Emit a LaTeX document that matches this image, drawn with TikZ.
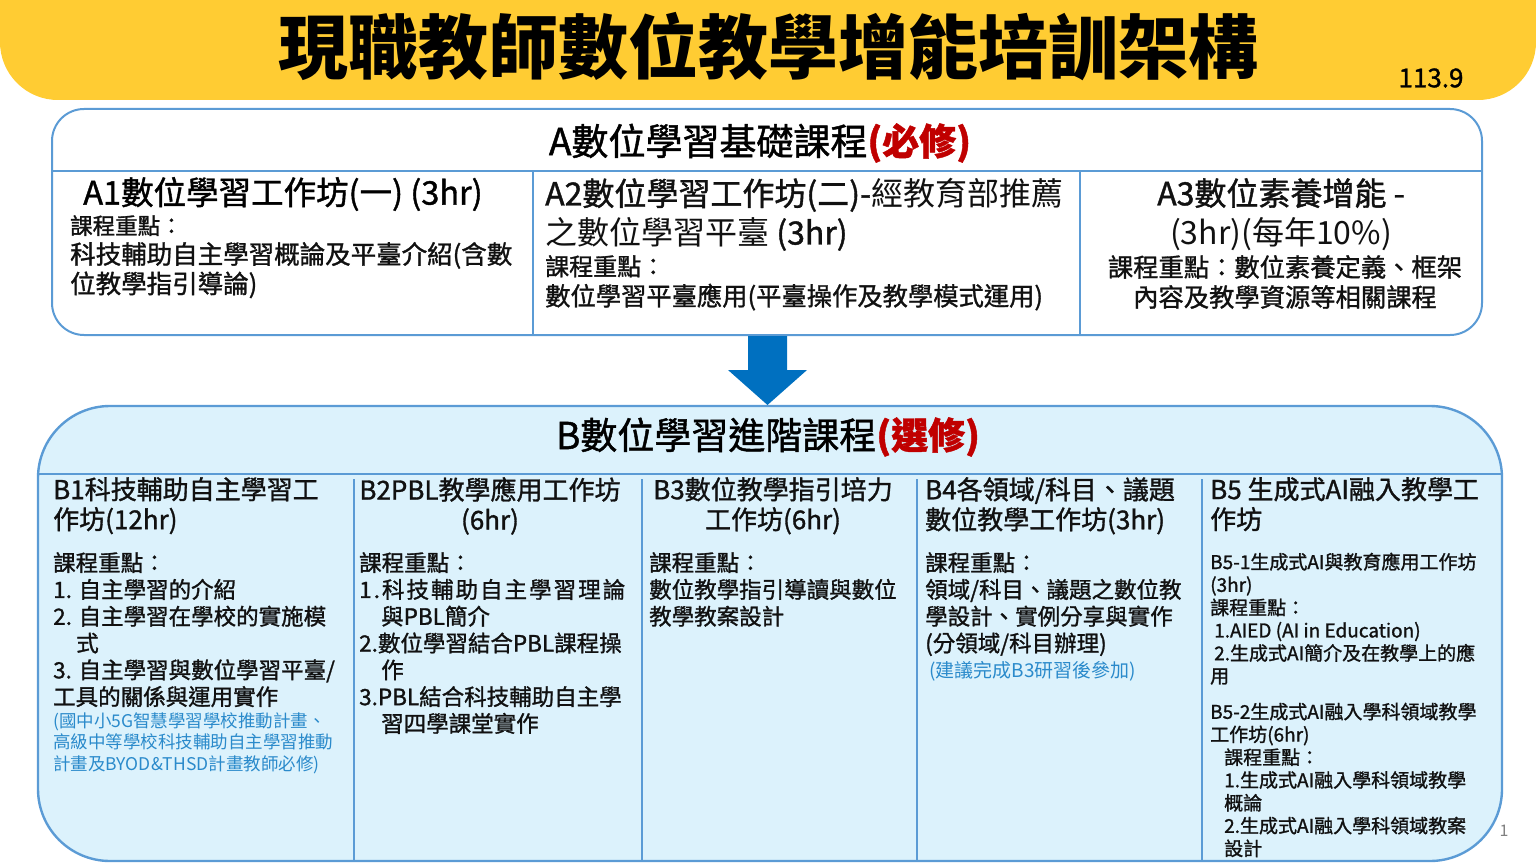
\documentclass[tikz,border=0pt]{standalone}
\usepackage{fontspec}
\setmainfont{Noto Sans CJK TC}
\newfontfamily\fm{Noto Sans CJK TC}[FakeBold=1.2]
\newfontfamily\fmls{Noto Sans CJK TC}[FakeBold=1.2, LetterSpace=9]
\newcommand\myfs[2]{\fontsize{#1}{#2}\selectfont}
\definecolor{ttl}{HTML}{FFCC33}
\definecolor{bline}{HTML}{5B9BD5}
\definecolor{bfill}{HTML}{DCF2FC}
\definecolor{req}{HTML}{C00000}
\definecolor{note}{HTML}{2A8ACB}
\definecolor{arw}{HTML}{0070C0}
\definecolor{txt}{HTML}{111111}
\tikzset{
  boxline/.style={draw=bline, line width=2pt},
  divline/.style={draw=bline, line width=1.8pt},
  tl/.style={anchor=north west, align=left, inner sep=0pt, text=txt},
  tc/.style={anchor=north, align=center, inner sep=0pt, text=txt},
}
\begin{document}
\begin{tikzpicture}[x=1pt,y=-1pt]
\useasboundingbox (0,0) rectangle (1536,864);
% title bar
\fill[ttl, rounded corners=58pt] (0,-80) rectangle (1536,100);
\node[inner sep=0pt, font=\bfseries\myfs{70}{80}] (title) at (768,47) {現職教師數位教學增能培訓架構};
\node[inner sep=0pt, font=\fm\myfs{26}{30}] (ver) at (1431,78) {113.9};

% A box
\draw[boxline, fill=white, rounded corners=32pt] (52,109) rectangle (1482,335);
\draw[divline] (52,171) -- (1482,171);
\draw[divline] (533,171) -- (533,335);
\draw[divline] (1080,171) -- (1080,335);
\node[inner sep=0pt, font=\fm\myfs{37}{40}] (atitle) at (760,143) {A數位學習基礎課程{\bfseries\color{req}(必修)}};

\node[inner sep=0pt, font=\fm\myfs{32.5}{36}] (a1h) at (283,194) {A1數位學習工作坊(一) (3hr)};
\node[tl, font=\fm\myfs{25.5}{29.5}] (a1b) at (70,215) {{\myfs{22.5}{29.5}課程重點：}\\科技輔助自主學習概論及平臺介紹(含數\\位教學指引導論)};

\node[tl, font=\myfs{32}{39}] (a2h) at (545,178) {{\fm A2數位學習工作坊(二)-}經教育部推薦\\之數位學習平臺 {\fm (3hr)}};
\node[tl, font=\fm\myfs{25.3}{30}] (a2b) at (545,255) {{\myfs{24}{30}課程重點：}\\數位學習平臺應用(平臺操作及教學模式運用)};

\node[tc, font=\myfs{32}{39}] (a3h) at (1281,178) {{\fm A3數位素養增能 -}\\(3hr)(每年10\%)};
\node[tc, font=\fm\myfs{25.3}{30}] (a3b) at (1285,255) {課程重點：數位素養定義、框架\\內容及教學資源等相關課程};

% arrow A -> B
\coordinate (aS) at (767.5,336);
\coordinate (bN) at (767.5,405);
\fill[arw] (748,336) -- (787,336) -- (787,370) -- (807,370) -- (bN) -- (728,370) -- (748,370) -- cycle;

% B box
\draw[boxline, line width=2.4pt, fill=bfill, rounded corners=72pt] (38,406) rectangle (1502,861);
\draw[divline] (38,474) -- (1502,474);
\draw[divline] (354,479) -- (354,861);
\draw[divline] (642,479) -- (642,861);
\draw[divline] (917,479) -- (917,861);
\draw[divline] (1202,479) -- (1202,861);
\node[inner sep=0pt, font=\fm\myfs{37}{40}] (btitle) at (768,437) {B數位學習進階課程{\bfseries\color{req}(選修)}};

% B headers
\node[tl, font=\fm\myfs{26}{30}] (b1h) at (53,477) {B1科技輔助自主學習工\\作坊(12hr)};
\node[tc, font=\fm\myfs{26}{30}] (b2h) at (490,477) {B2PBL教學應用工作坊\\(6hr)};
\node[tc, font=\fm\myfs{26}{30}] (b3h) at (773,477) {B3數位教學指引培力\\工作坊(6hr)};
\node[tl, font=\fm\myfs{26}{30}] (b4h) at (925,477) {B4各領域/科目、議題\\數位教學工作坊(3hr)};
\node[tl, font=\fm\myfs{26}{30}] (b5h) at (1210,477) {B5 生成式AI融入教學工\\作坊};

% B bodies
\node[tl, font=\fm\myfs{22.5}{26.8}] (b1b) at (53,552) {課程重點：\\1. 自主學習的介紹\\2. 自主學習在學校的實施模\\\hspace*{23pt}式\\3. 自主學習與數位學習平臺/\\工具的關係與運用實作};
\node[tl, text=note, font=\myfs{17.5}{21.5}] (b1n) at (53,712) {(國中小5G智慧學習學校推動計畫、\\高級中等學校科技輔助自主學習推動\\計畫及BYOD\&THSD計畫教師必修)};

\node[tl, font=\fm\myfs{22.5}{26.8}] (b2b) at (359,552) {課程重點：\\{\fmls 1.科技輔助自主學習理論}\\\hspace*{22pt}與PBL簡介\\2.數位學習結合PBL課程操\\\hspace*{22pt}作\\3.PBL結合科技輔助自主學\\\hspace*{22pt}習四學課堂實作};

\node[tl, font=\fm\myfs{22.5}{26.8}] (b3b) at (649,552) {課程重點：\\數位教學指引導讀與數位\\教學教案設計};

\node[tl, font=\fm\myfs{22.5}{26.8}] (b4b) at (925,552) {課程重點：\\領域/科目、議題之數位教\\學設計、實例分享與實作\\(分領域/科目辦理)};
\node[inner sep=0pt, anchor=west, text=note, font=\myfs{19}{22}] (b4n) at (929,671) {(建議完成B3研習後參加)};

\node[tl, font=\fm\myfs{19}{22.8}] (b5a) at (1210,552.5) {B5-1生成式AI與教育應用工作坊\\(3hr)\\課程重點：\\\hspace*{4pt}1.AIED (AI in Education)\\\hspace*{4pt}2.生成式AI簡介及在教學上的應\\用};
\node[tl, font=\fm\myfs{19}{22.8}] (b5b) at (1210,702.5) {B5-2生成式AI融入學科領域教學\\工作坊(6hr)\\\hspace*{14pt}課程重點：\\\hspace*{14pt}1.生成式AI融入學科領域教學\\\hspace*{14pt}概論\\\hspace*{14pt}2.生成式AI融入學科領域教案\\\hspace*{14pt}設計};

\node[inner sep=0pt, text=gray, font=\myfs{16}{18}] (pg) at (1504,831) {1};
\end{tikzpicture}
\end{document}
